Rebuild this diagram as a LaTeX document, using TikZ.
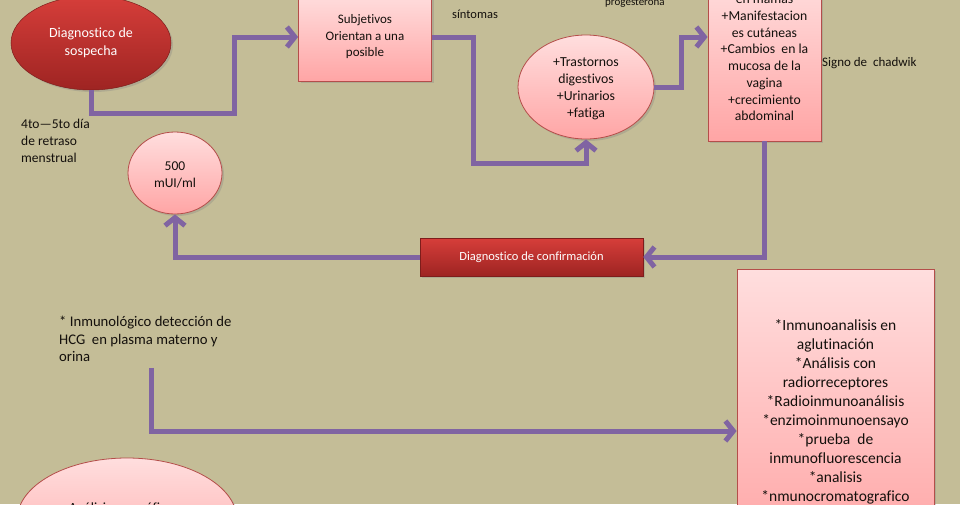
\documentclass[tikz,border=0pt]{standalone}
\usepackage{fontspec}
\setmainfont{Carlito}[Ligatures=NoCommon]
\usetikzlibrary{shapes.geometric,arrows.meta,calc,shadows}
\definecolor{bg}{RGB}{196,189,151}
\definecolor{arrowc}{RGB}{128,100,162}
\definecolor{pinktop}{RGB}{255,222,222}
\definecolor{pinkbot}{RGB}{255,165,165}
\definecolor{redtop}{RGB}{214,62,58}
\definecolor{redbot}{RGB}{158,36,34}
\definecolor{edge}{RGB}{180,78,74}
\definecolor{txt}{RGB}{20,16,12}
\begin{document}
\begin{tikzpicture}[x=1pt,y=-1pt,
  shad/.style={drop shadow={opacity=0.3,shadow xshift=2pt,shadow yshift=-2pt}},
  pinkbox/.style={rectangle,draw=edge,line width=0.8pt,top color=pinktop,bottom color=pinkbot,align=center,inner sep=0pt,text=txt,shad},
  pinkell/.style={ellipse,draw=edge,line width=0.8pt,top color=pinktop,bottom color=pinkbot,align=center,inner sep=0pt,text=txt,shad},
  redbox/.style={rectangle,draw=redbot!80!black,line width=0.5pt,top color=redtop,bottom color=redbot,align=center,inner sep=0pt,text=white,shad},
  redell/.style={ellipse,draw=redbot!80!black,line width=0.5pt,top color=redtop,bottom color=redbot,align=center,inner sep=0pt,text=white,shad},
  note/.style={align=left,inner sep=0pt,text=txt},
  arr/.style={draw=arrowc,line width=5pt,-{Straight Barb[length=8pt,width=20pt,line width=5pt]}}
]
\useasboundingbox (0,0) rectangle (960,504);
\clip (0,0) rectangle (960,504);
\fill[bg] (0,0) rectangle (960,504);

% nodes
\node[redell,minimum width=160pt,minimum height=94pt,font=\fontsize{14}{18}\selectfont] (sosp) at (91,43) {Diagnostico de\\sospecha};
\node[pinkbox,minimum width=133pt,minimum height=88pt,font=\fontsize{13}{16.5}\selectfont] (subj) at (365,37) {Subjetivos\\Orientan a una\\posible};
\node[note,anchor=west,font=\fontsize{12.5}{15}\selectfont] (sint) at (452,14) {síntomas};
\node[note,anchor=base west,font=\fontsize{11}{13}\selectfont] (prog) at (605,5) {progesterona};
\node[pinkell,minimum width=136pt,minimum height=104pt,
  label={[align=center,text=txt,inner sep=0pt,yshift=-2pt,font=\fontsize{13.8}{17}\selectfont]center:{+Trastornos\\digestivos\\+Urinarios\\+fatiga}}] (trast) at (586,87) {};
\node[pinkbox,minimum width=113pt,minimum height=164pt,font=\fontsize{13.7}{16.7}\selectfont] (man) at (764.5,59) {en mamas\\+Manifestacion\\es cutáneas\\+Cambios\ \ en la\\mucosa de la\\vagina\\+crecimiento\\abdominal};
\node[note,anchor=west,font=\fontsize{13}{16}\selectfont] (sig) at (822,63) {Signo de\ \ chadwik};
\node[redbox,minimum width=223pt,minimum height=38pt,font=\fontsize{12.5}{15}\selectfont] (conf) at (531.5,257) {Diagnostico de confirmación};
\node[pinkell,minimum width=94pt,minimum height=82pt,
  label={[align=center,text=txt,inner sep=0pt,yshift=-2pt,font=\fontsize{13.5}{17}\selectfont]center:{500\\mUI/ml}}] (k500) at (175,173) {};
\node[note,anchor=north west,font=\fontsize{13.5}{17}\selectfont] (retr) at (21,119) {4to—5to día\\de retraso\\menstrual};
\node[note,anchor=north west,font=\fontsize{14.7}{17.5}\selectfont] (inmu) at (59,316) {* Inmunológico detección de\\HCG\ \ en plasma materno y\\orina};
\node[pinkbox,minimum width=197pt,minimum height=286pt,font=\fontsize{15.5}{19}\selectfont] (tests) at (835.5,412) {*Inmunoanalisis en\\aglutinación\\*Análisis con\\radiorreceptores\\*Radioinmunoanálisis\\*enzimoinmunoensayo\\*prueba\ \ de\\inmunofluorescencia\\*analisis\\*nmunocromatografico};
\node[pinkell,minimum width=220pt,minimum height=124pt] (eco) at (127,520) {};
\node[note,font=\fontsize{14}{17}\selectfont] (ecot) at (126,509) {Análisis ecográfico a};

% connectors
\draw[arr] (sosp.south) -- ++(0,23) -| ($(subj.west)+(-64,0)$) -- (subj.west);
\draw[arr] (subj.east) -- ++(42,0) |- ($(trast.south)+(0,24)$) -- (trast.south);
\draw[arr] (trast.east) -- ++(27,0) |- (man.west |- subj.east);
\draw[arr] (man.south) |- (conf.east);
\draw[arr] (conf.west) -| (k500.south);
\draw[arr] ($(inmu.south)+(6,6)$) |- ($(tests.west)+(0,19)$);
\end{tikzpicture}
\end{document}
